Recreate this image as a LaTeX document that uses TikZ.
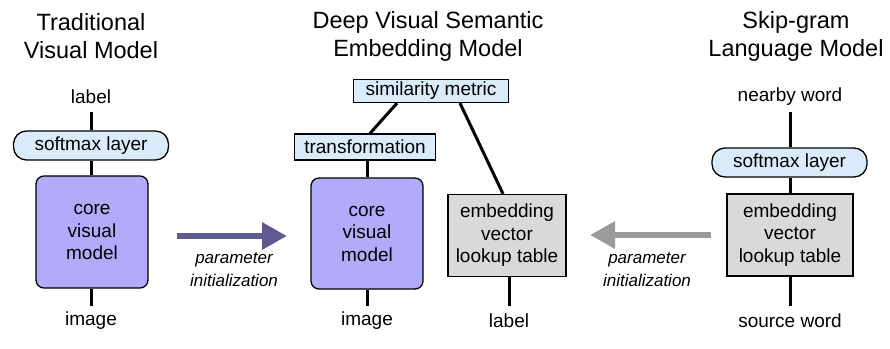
\documentclass[tikz,border=0pt]{standalone}
\usepackage{fontspec}
\setmainfont{Liberation Sans}
\usetikzlibrary{arrows.meta}
\definecolor{smblue}{HTML}{DAECFC}
\definecolor{corepurple}{HTML}{B2AAFA}
\definecolor{embgray}{HTML}{D9D9D9}
\definecolor{arrpurple}{HTML}{5F5A90}
\definecolor{arrgray}{HTML}{9A9A9A}
\begin{document}
\begin{tikzpicture}[x=1pt,y=-1pt,
 every node/.style={font=\fontsize{19}{22.5}\selectfont, align=center, inner sep=0pt},
 titletext/.style={font=\fontsize{23.5}{28}\selectfont},
 plaintext/.style={minimum height=30pt},
 pillbox/.style={draw, line width=1.3pt, fill=smblue, rounded corners=13pt, minimum width=155pt, minimum height=29pt},
 smbox/.style={draw, line width=1.3pt, fill=smblue},
 corebox/.style={draw, line width=1.3pt, fill=corepurple, rounded corners=8pt, minimum width=112pt, minimum height=112pt},
 embbox/.style={draw, line width=1.3pt, fill=embgray, minimum height=82pt},
 conn/.style={line width=3pt},
 initarrow/.style={line width=6pt, -{Triangle[length=25pt,width=26pt]}},
 initlabel/.style={font=\fontsize{17}{23}\selectfont\itshape}
]
\useasboundingbox (0,0) rectangle (890,348);

% ---------- left column ----------
\node[titletext] (t1) at (91,36) {Traditional\\Visual Model};
\node[plaintext] (lblL) at (91,97) {label};
\node[pillbox] (smL) at (91,145.5) {softmax layer};
\node[corebox] (coreL) at (92,232) {core\\visual\\model};
\node[plaintext] (imgL) at (91,321) {image};
\draw[conn] (lblL.south) -- (smL.north);
\draw[conn] (smL.south) -- (coreL.north -| smL.south);
\draw[conn] (coreL.south -| imgL.north) -- (imgL.north);

% ---------- middle column ----------
\node[titletext] (t2) at (428,36) {Deep Visual Semantic\\Embedding Model};
\node[smbox, minimum width=155pt, minimum height=23pt] (sim) at (431,91) {similarity metric};
\node[smbox, minimum width=141pt, minimum height=26pt] (trans) at (365,147) {transformation};
\node[corebox, minimum height=111pt] (coreM) at (367,233.5) {core\\visual\\model};
\node[embbox, minimum width=118pt] (embM) at (507,235.5) {embedding\\vector\\lookup table};
\node[plaintext] (imgM) at (367,321) {image};
\node[plaintext] (lblM) at (509,321) {label};
\draw[conn] ([xshift=-34pt]sim.south) -- ([xshift=5pt]trans.north);
\draw[conn] ([xshift=29pt]sim.south) -- ([xshift=-4pt]embM.north);
\draw[conn] (trans.south -| coreM.north) -- (coreM.north);
\draw[conn] (coreM.south) -- (imgM.north);
\draw[conn] (embM.south -| lblM.north) -- (lblM.north);

% ---------- right column ----------
\node[titletext] (t3) at (796,36) {Skip-gram\\Language Model};
\node[plaintext] (nbw) at (790,97) {nearby word};
\node[pillbox] (smR) at (789.5,162.5) {softmax layer};
\node[embbox, minimum width=126pt] (embR) at (790,235) {embedding\\vector\\lookup table};
\node[plaintext] (srcw) at (790,321) {source word};
\draw[conn] (nbw.south) -- (smR.north -| nbw.south);
\draw[conn] (smR.south -| embR.north) -- (embR.north);
\draw[conn] (embR.south) -- (srcw.north);

% ---------- parameter initialization arrows ----------
\coordinate (a1s) at (177,236);
\coordinate (a1e) at (287,236);
\draw[initarrow, draw=arrpurple, fill=arrpurple] (a1s) -- (a1e);
\node[initlabel] (pi1) at (234,269.5) {parameter\\initialization};

\coordinate (a2s) at (711,235);
\coordinate (a2e) at (590,235);
\draw[initarrow, draw=arrgray, fill=arrgray] (a2s) -- (a2e);
\node[initlabel] (pi2) at (647,269.5) {parameter\\initialization};
\end{tikzpicture}
\end{document}
